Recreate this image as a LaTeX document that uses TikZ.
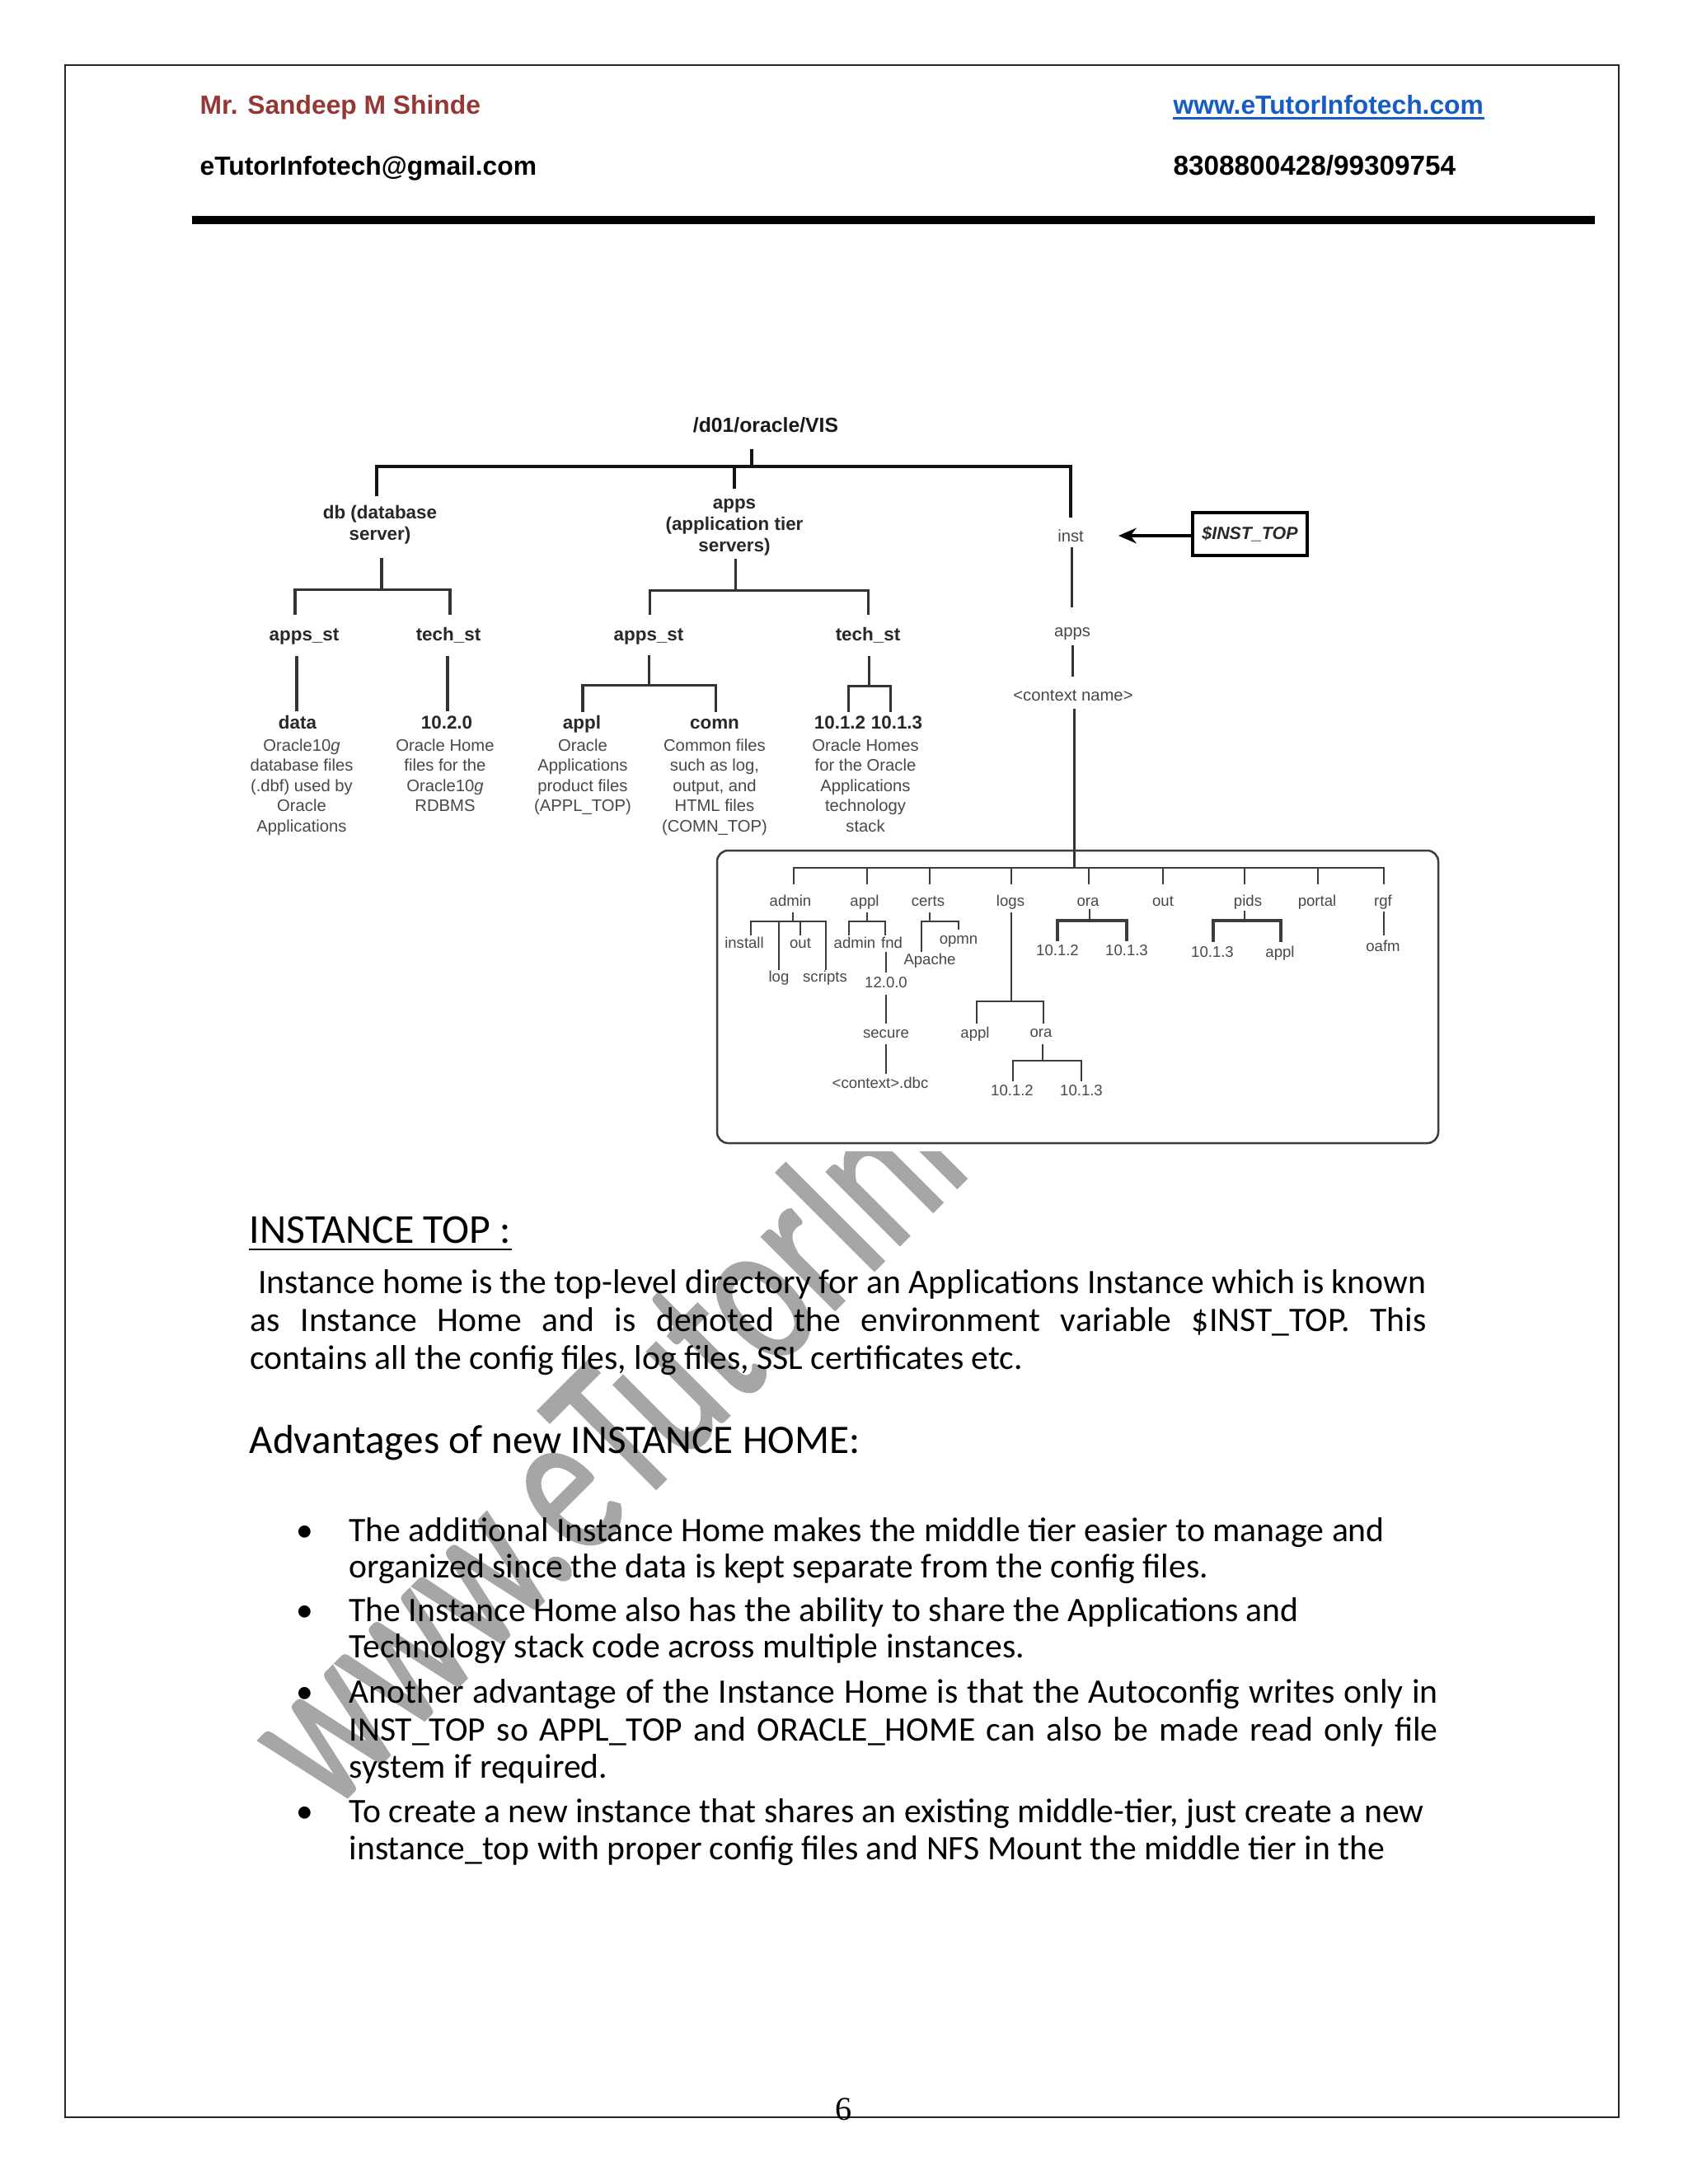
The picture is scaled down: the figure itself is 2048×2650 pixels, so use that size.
\documentclass[tikz,border=0pt]{standalone}
\usepackage{fontspec}
\setmainfont{Carlito}
\newfontfamily\arialf{Liberation Sans}
\newfontfamily\timesf{Liberation Serif}
\newfontfamily\wmfont[FakeBold=1.3]{Carlito}
\usetikzlibrary{arrows.meta}
\definecolor{hdrred}{RGB}{149,55,53}
\definecolor{hdrblue}{RGB}{22,92,196}
\definecolor{wmgray}{RGB}{166,166,166}
\definecolor{dtext}{RGB}{40,40,40}
\definecolor{dline}{RGB}{50,50,50}
\definecolor{btext}{RGB}{72,72,72}
\definecolor{bxline}{RGB}{60,60,60}
\newcommand\fsz[2]{\fontsize{#1}{#2}\selectfont}
\newcommand\lns[1]{\begin{tabular}[t]{@{}c@{}}#1\end{tabular}}
\tikzset{
  hdr/.style={font=\arialf\bfseries\fsz{9.5pt}{11pt}, inner sep=0pt, anchor=base west},
  ttl/.style={font=\arialf\bfseries\fsz{7.4pt}{9pt}, text=black!90, inner sep=0pt, anchor=base},
  blab/.style={font=\arialf\bfseries\fsz{6.7pt}{7.9pt}, text=dtext, inner sep=0pt, anchor=base},
  dsc/.style={font=\arialf\fsz{6.05pt}{7.32pt}, text=dtext!85, inner sep=0pt, anchor=base},
  bxl/.style={font=\arialf\fsz{5.55pt}{6.6pt}, text=btext, inner sep=0pt, anchor=base},
  tline/.style={line width=1.2pt, draw=black!92},
  sline/.style={line width=0.9pt, draw=dline},
  bline/.style={line width=0.8pt, draw=bxline},
  body/.style={font=\fsz{12.45pt}{13.8pt}, inner sep=0pt, anchor=base west},
  jpara/.style={body, text width=426.4pt, align=justify},
  jitem/.style={body, text width=394.8pt, align=justify},
  bul/.style={font=\fsz{12.45pt}{13.8pt}, inner sep=0pt, anchor=base},
}
\begin{document}
\begin{tikzpicture}[x=0.29883pt,y=-0.29883pt]
\useasboundingbox (0,0) rectangle (2048,2650);
\fill[white] (0,0) rectangle (2048,2650);

% watermark (partly hidden by the diagram picture)
\begin{scope}
\clip (0,1397) rectangle (2048,2650);
\node[font=\wmfont\fsz{78pt}{84pt}, text=wmgray, inner sep=0pt, anchor=base west, rotate=45]
  (wm) at (400,2202) {\scalebox{0.705}[1]{www.eTutorInfotech.com}};
\end{scope}

% page border
\draw[line width=0.7pt, draw=black!85] (79,79) rectangle (1964,2569);

% header
\node[hdr, text=hdrred] (name) at (242,138) {Mr. Sandeep M Shinde};
\node[hdr, text=black] (mail) at (242,212) {eTutorInfotech@gmail.com};
\node[hdr, text=hdrblue] (web) at (1423,138) {www.eTutorInfotech.com};
\draw[hdrblue, line width=0.9pt] ([yshift=-1.7pt]web.base west) -- ([yshift=-1.7pt]web.base east);
\node[hdr, text=black, font=\arialf\bfseries\fsz{9.95pt}{11pt}] (phone) at (1423,212) {8308800428/99309754};
\draw[line width=3pt, black] (233,267) -- (1935,267);

% ---------------- diagram ----------------
\node[ttl] (root) at (929,524) {/d01/oracle/VIS};
\draw[tline] (912,545) -- (912,566);
\draw[tline] (457,602) -- (457,566) -- (1299,566) -- (1299,628);
\draw[tline] (891,566) -- (891,593);

\node[blab] (db) at (461,629) {\lns{db (database\\server)}};
\node[blab] (apps) at (891,617) {\lns{apps\\(application tier\\servers)}};

% db subtree
\draw[sline] (463,677) -- (463,715);
\draw[sline] (358,746) -- (358,715) -- (546,715) -- (546,746);
\node[blab] (dbapps) at (369,777) {apps\_st};
\node[blab] (dbtech) at (544,777) {tech\_st};
\draw[sline] (360,796) -- (360,863);
\draw[sline] (543,796) -- (543,863);
\node[blab] (data) at (361,884) {data};
\node[blab] (v1020) at (542,884) {10.2.0};
\node[dsc] (datad) at (366,911) {\lns{Oracle10\textit{g}\\database files\\(.dbf) used by\\Oracle\\Applications}};
\node[dsc] (v1020d) at (540,911) {\lns{Oracle Home\\files for the\\Oracle10\textit{g}\\RDBMS}};

% apps subtree
\draw[sline] (892,678) -- (892,716);
\draw[sline] (788,746) -- (788,716) -- (1053,716) -- (1053,746);
\node[blab] (aapps) at (787,777) {apps\_st};
\node[blab] (atech) at (1053,777) {tech\_st};
\draw[sline] (787,795) -- (787,831);
\draw[sline] (707,864) -- (707,831) -- (868,831) -- (868,864);
\draw[sline] (1054,796) -- (1054,832);
\draw[sline] (1029,864) -- (1029,832) -- (1080,832) -- (1080,864);
\node[blab] (appl) at (706,884) {appl};
\node[blab] (comn) at (867,884) {comn};
\node[blab] (v1012) at (1019,884) {10.1.2};
\node[blab] (v1013) at (1088,884) {10.1.3};
\node[dsc] (appld) at (707,911) {\lns{Oracle\\Applications\\product files\\(APPL\_TOP)}};
\node[dsc] (comnd) at (867,911) {\lns{Common files\\such as log,\\output, and\\HTML files\\(COMN\_TOP)}};
\node[dsc] (techd) at (1050,911) {\lns{Oracle Homes\\for the Oracle\\Applications\\technology\\stack}};

% inst column
\node[dsc] (inst) at (1299,657) {inst};
\draw[sline] (1300,664) -- (1300,737);
\node[dsc] (iapps) at (1301,772) {apps};
\draw[sline] (1301,783) -- (1301,821);
\node[dsc] (ctx) at (1302,850) {<context name>};
\draw[sline] (1303,860) -- (1303,1053);

\node[draw=black, line width=1.2pt, minimum width=41.5pt, minimum height=15.5pt, inner sep=0pt,
  font=\arialf\bfseries\itshape\fsz{6.4pt}{7.5pt}, text=dtext] (insttop) at (1516.5,648) {\$INST\_TOP};
\coordinate (instarr) at (1357,650);
\draw[line width=1.1pt, -{Stealth[length=6.5pt,width=5.6pt]}] (insttop.west |- instarr) -- (instarr);

% instance box
\draw[line width=0.75pt, draw=bxline, rounded corners=4pt] (870,1032) rectangle (1745,1387);
\draw[bline] (963,1073) -- (963,1053) -- (1679,1053) -- (1679,1073);
\foreach \xx in {1052,1128,1227,1321,1411,1510,1599} \draw[bline] (\xx,1053) -- (\xx,1073);
\node[bxl] (b-admin) at (959,1099) {admin};
\node[bxl] (b-appl) at (1049,1099) {appl};
\node[bxl] (b-certs) at (1126,1099) {certs};
\node[bxl] (b-logs) at (1226,1099) {logs};
\node[bxl] (b-ora) at (1320,1099) {ora};
\node[bxl] (b-out) at (1411,1099) {out};
\node[bxl] (b-pids) at (1514,1099) {pids};
\node[bxl] (b-portal) at (1598,1099) {portal};
\node[bxl] (b-rgf) at (1678,1099) {rgf};

% admin children
\draw[bline] (962,1107) -- (962,1118);
\draw[bline] (911,1135) -- (911,1118) -- (1002,1118) -- (1002,1177);
\draw[bline] (945,1118) -- (945,1177);
\draw[bline] (971,1118) -- (971,1135);
\node[bxl] (b-install) at (903,1150) {install};
\node[bxl] (b-aout) at (971,1150) {out};
\node[bxl] (b-log) at (945,1191) {log};
\node[bxl] (b-scripts) at (1001,1191) {scripts};

% appl children
\draw[bline] (1052,1107) -- (1052,1118);
\draw[bline] (1030,1135) -- (1030,1118) -- (1074,1118) -- (1074,1135);
\node[bxl] (b-aadmin) at (1037,1150) {admin};
\node[bxl] (b-fnd) at (1082,1150) {fnd};
\draw[bline] (1075,1155) -- (1075,1180);
\node[bxl] (b-1200) at (1075,1198) {12.0.0};
\draw[bline] (1075,1207) -- (1075,1242);
\node[bxl] (b-secure) at (1075,1259) {secure};
\draw[bline] (1075,1267) -- (1075,1303);
\node[bxl] (b-dbc) at (1068,1320) {<context>.dbc};

% certs children
\draw[bline] (1128,1107) -- (1128,1118);
\draw[bline] (1118,1155) -- (1118,1118) -- (1163,1118) -- (1163,1128);
\node[bxl] (b-opmn) at (1163,1145) {opmn};
\node[bxl] (b-apache) at (1128,1170) {Apache};

% logs children
\draw[bline] (1227,1107) -- (1227,1215);
\draw[bline] (1185,1242) -- (1185,1215) -- (1266,1215) -- (1266,1242);
\node[bxl] (b-lappl) at (1183,1259) {appl};
\node[bxl] (b-lora) at (1263,1258) {ora};
\draw[bline] (1265,1267) -- (1265,1287);
\draw[bline] (1229,1312) -- (1229,1287) -- (1312,1287) -- (1312,1312);
\node[bxl] (b-l1012) at (1228,1329) {10.1.2};
\node[bxl] (b-l1013) at (1312,1329) {10.1.3};

% ora children
\draw[bline] (1322,1103) -- (1322,1117);
\draw[bline, line width=1pt] (1283,1142) -- (1283,1117) -- (1367,1117) -- (1367,1142);
\node[bxl] (b-o1012) at (1283,1159) {10.1.2};
\node[bxl] (b-o1013) at (1367,1159) {10.1.3};

% pids children
\draw[bline] (1510,1105) -- (1510,1117);
\draw[bline, line width=1pt] (1472,1143) -- (1472,1117) -- (1554,1117) -- (1554,1143);
\node[bxl] (b-p1013) at (1471,1161) {10.1.3};
\node[bxl] (b-pappl) at (1553,1161) {appl};

% rgf child
\draw[bline] (1679,1106) -- (1679,1135);
\node[bxl] (b-oafm) at (1678,1154) {oafm};

% ---------------- body text ----------------
\node[body, font=\fsz{14.9pt}{16pt}] (h1) at (302,1508) {INSTANCE TOP :};
\draw[line width=0.55pt] ([yshift=-2.4pt]h1.base west) -- ([yshift=-2.4pt]h1.base east);

\node[jpara] (p1) at (303,1569) {\hspace*{2.8pt}\parfillskip=0pt\relax Instance home is the top-level directory for an Applications Instance which is known\par};
\node[jpara] (p2) at (303,1615) {\parfillskip=0pt\relax as Instance Home and is denoted the environment variable \$INST\_TOP. This\par};
\node[body] (p3) at (303,1661) {contains all the config files, log files, SSL certificates etc.};

\node[body, font=\fsz{14.7pt}{16pt}] (h2) at (302,1763) {Advantages of new INSTANCE HOME:};

\node[bul] (b1) at (370,1870) {\textbullet};
\node[body] (i1a) at (423,1870) {The additional Instance Home makes the middle tier easier to manage and};
\node[body] (i1b) at (423,1914) {organized since the data is kept separate from the config files.};
\node[bul] (b2) at (370,1967) {\textbullet};
\node[body] (i2a) at (423,1967) {The Instance Home also has the ability to share the Applications and};
\node[body] (i2b) at (423,2011) {Technology stack code across multiple instances.};
\node[bul] (b3) at (370,2066) {\textbullet};
\node[jitem] (i3a) at (423,2066) {\parfillskip=0pt\relax Another advantage of the Instance Home is that the Autoconfig writes only in\par};
\node[jitem] (i3b) at (423,2112) {\parfillskip=0pt\relax INST\_TOP so APPL\_TOP and ORACLE\_HOME can also be made read only file\par};
\node[body] (i3c) at (423,2157) {system if required.};
\node[bul] (b4) at (370,2211) {\textbullet};
\node[body] (i4a) at (423,2211) {To create a new instance that shares an existing middle-tier, just create a new};
\node[body] (i4b) at (423,2256) {instance\_top with proper config files and NFS Mount the middle tier in the};

% page number
\node[font=\timesf\fsz{12pt}{14pt}, inner sep=0pt, anchor=base] (pg) at (1024,2572) {6};
\end{tikzpicture}
\end{document}
